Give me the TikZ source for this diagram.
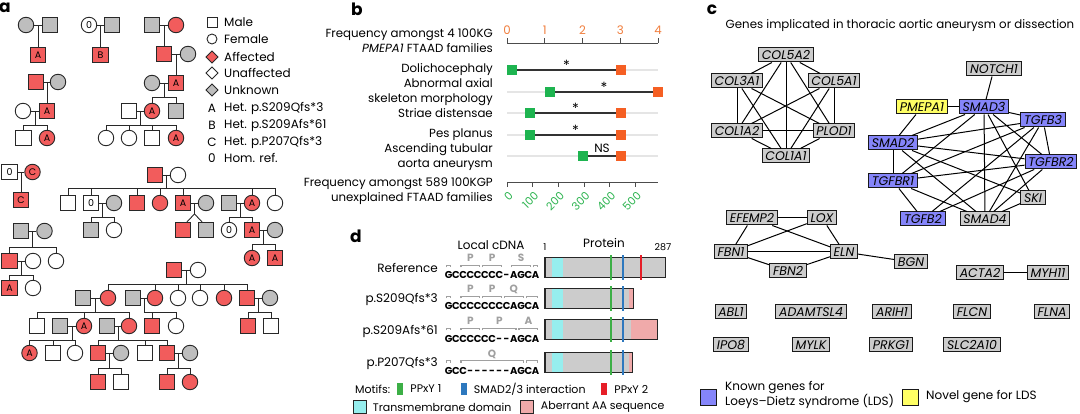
\documentclass[tikz,border=0pt]{standalone}
\usepackage{fontspec}
\setmainfont{Poppins}
\usetikzlibrary{positioning, shapes.geometric, calc}
\definecolor{affred}{RGB}{242,92,92}
\definecolor{unkgrey}{RGB}{190,190,190}
\definecolor{pedline}{RGB}{40,40,40}
\definecolor{frqorange}{RGB}{245,95,35}
\definecolor{frqgreen}{RGB}{30,180,80}
\definecolor{tickorange}{RGB}{240,125,60}
\definecolor{tickgreen}{RGB}{45,180,80}
\definecolor{genegrey}{RGB}{204,204,204}
\definecolor{ldsblue}{RGB}{133,133,250}
\definecolor{novyellow}{RGB}{255,255,100}
\definecolor{bargrey}{RGB}{204,204,204}
\definecolor{tmcyan}{RGB}{150,238,238}
\definecolor{aapink}{RGB}{240,170,170}
\definecolor{motgreen}{RGB}{60,175,70}
\definecolor{motblue}{RGB}{45,120,190}
\definecolor{motred}{RGB}{230,30,40}
\definecolor{codgrey}{RGB}{160,160,160}

\newcommand{\fsz}[1]{\fontsize{#1}{#1}\selectfont}
% mating line and its middle point
\newcommand{\couple}[3]{\draw[pline] (#1) -- (#2); \coordinate (#3) at ($(#1)!.5!(#2)$);}
% drop line, sibship line at height #2, children #3
\newcommand{\kids}[3]{%
  \foreach \kid in {#3}{\draw[pline] (\kid.north) -- (\kid.north |- 0,#2) -- (#1 |- 0,#2);}
  \draw[pline] (#1) -- (#1 |- 0,#2);}
% one cDNA line, letter by letter
\newcommand{\seqrow}[3]{%
  \foreach \ch [count=\i] in {#3}
    \node[seqch] (#1\i) at ({445+(\i-0.5)*7.25},#2) {\ch};}
% codon bracket: name, line y, first letter, last letter, amino acid
\newcommand{\codon}[5]{%
  \draw[codln] ({445+(#3-1)*7.25+1.5},{#2+2}) -- ++(0,-2) -- ({445+#4*7.25-1.5},#2) -- ++(0,2);
  \node[codtxt] (#1) at ({445+(#3+#4-1)*7.25/2},{#2-3.5}) {#5};}

\begin{document}
\begin{tikzpicture}[x=1pt, y=-1pt,
  pline/.style={draw=pedline, line width=0.9pt},
  ind/.style={draw=pedline, line width=0.9pt, minimum size=15.5pt, inner sep=0pt, font=\fsz{9.5}},
  male/.style={ind, rectangle},
  fem/.style={ind, circle},
  aff/.style={fill=affred},
  unk/.style={fill=unkgrey},
  lgsym/.style={draw=pedline, line width=0.9pt, minimum size=10pt, inner sep=0pt},
  lgtxt/.style={anchor=west, font=\fsz{12}, inner sep=0pt},
  dtxt/.style={anchor=west, font=\fsz{11}, inner sep=0pt},
  plabel/.style={font=\fsz{17}\bfseries, inner sep=0pt},
  blbl/.style={anchor=east, align=right, font=\fontsize{11.8}{15}\selectfont, inner sep=0pt},
  axln/.style={draw=black!70, line width=0.8pt},
  rowln/.style={draw=black!10, line width=1.6pt},
  pairln/.style={draw=black!80, line width=1.8pt},
  gsq/.style={fill=frqgreen, minimum size=10pt, inner sep=0pt},
  osq/.style={fill=frqorange, minimum size=10pt, inner sep=0pt},
  starlbl/.style={font=\fsz{14}, inner sep=0pt},
  seqch/.style={font=\fsz{10}\bfseries, inner sep=0pt, anchor=base},
  codln/.style={draw=codgrey, line width=1.1pt},
  codtxt/.style={font=\fsz{10.5}\bfseries, text=codgrey, inner sep=0pt, anchor=base},
  pbar/.style={fill=bargrey, anchor=west, minimum height=20pt, inner sep=0pt},
  pout/.style={draw=black!85, line width=1.1pt},
  motif/.style={line width=2.8pt},
  swatch/.style={inner sep=0pt},
  gene/.style={draw=black!90, line width=1pt, fill=genegrey, font=\fsz{12.5}\itshape, inner xsep=3.2pt, inner ysep=0pt, minimum height=14pt},
  ldsgene/.style={gene, fill=ldsblue},
  novgene/.style={gene, fill=novyellow},
  net/.style={draw=black, line width=1pt}]
\useasboundingbox (0,0) rectangle (1080,414);

% ---------------- a: pedigrees ----------------
\node[plabel] (la) at (5,8) {a};
% family 1
\node[fem,unk] (f1a) at (26,25) {};
\node[male,unk] (f1b) at (50,25) {};
\node[male,aff] (f1c) at (38,55) {A};
\couple{f1a}{f1b}{m1} \kids{m1}{40}{f1c}
% family 2
\node[fem] (f2a) at (89,25) {0};
\node[male,unk] (f2b) at (112,25) {};
\node[male,aff] (f2c) at (100.5,55) {B};
\couple{f2a}{f2b}{m2} \kids{m2}{40}{f2c}
% family 3
\node[male,unk] (f3a) at (152,25) {};
\node[fem,aff] (f3b) at (176,25) {};
\node[male,aff] (f3c) at (164,54) {};
\node[fem,unk] (f3d) at (188,54) {};
\node[fem,unk] (f3e) at (152,83) {};
\node[male,aff] (f3f) at (176,83) {A};
\node[male] (f3g) at (129,111) {};
\node[fem,aff] (f3h) at (152,111) {A};
\node[male,unk] (f3i) at (176,111) {};
\node[fem] (f3j) at (106,138) {};
\node[fem] (f3k) at (129,138) {};
\node[male] (f3l) at (152,138) {};
\node[fem,aff] (f3m) at (176,138) {A};
\couple{f3a}{f3b}{m3a} \kids{m3a}{40}{f3c}
\couple{f3c}{f3d}{m3b} \kids{m3b}{69}{f3f}
\couple{f3e}{f3f}{m3c} \kids{m3c}{97}{f3h,f3i}
\couple{f3g}{f3h}{m3d} \kids{m3d}{125}{f3j,f3k,f3l,f3m}
% family 4
\node[male,aff] (f4a) at (36,82) {};
\node[fem,unk] (f4b) at (58,82) {};
\node[fem] (f4c) at (23,111) {};
\node[male,aff] (f4d) at (47,111) {A};
\node[male] (f4e) at (23.5,138) {};
\node[fem,aff] (f4f) at (47,138) {A};
\couple{f4a}{f4b}{m4a} \kids{m4a}{97}{f4d}
\couple{f4c}{f4d}{m4b} \kids{m4b}{125}{f4e,f4f}
% family with C
\node[male] (fca) at (9.5,172) {0};
\node[fem,aff] (fcb) at (32.5,172) {C};
\node[male,aff] (fcc) at (21,200) {C};
\couple{fca}{fcb}{m5} \kids{m5}{186}{fcc}
% family 5
\node[male,unk] (f5a) at (21,231) {};
\node[fem,unk] (f5b) at (44.5,231) {};
\node[male,aff] (f5c) at (9.5,261) {};
\node[fem] (f5d) at (33,261) {};
\node[fem] (f5e) at (56,261) {};
\node[male,aff] (f5f) at (9.5,288) {A};
\node[fem] (f5g) at (33,288) {};
\couple{f5a}{f5b}{m6a} \kids{m6a}{247}{f5c,f5e}
\couple{f5c}{f5d}{m6b} \kids{m6b}{275}{f5f,f5g}
% family 6
\node[male,aff] (f6a) at (155,175) {};
\node[fem] (f6b) at (178,175) {};
\node[male] (f6c) at (68,203) {};
\node[male] (f6d) at (91,203) {0};
\node[fem,unk] (f6e) at (114,203) {};
\node[male,aff] (f6f) at (137,203) {};
\node[fem,aff] (f6g) at (160,203) {};
\node[male,aff] (f6h) at (183,203) {A};
\node[fem,unk] (f6i) at (206,203) {};
\node[male,unk] (f6j) at (229,203) {};
\node[fem,aff] (f6k) at (252,203) {A};
\node[fem] (f6l) at (275,203) {};
\node[male,unk] (f6m) at (91,230) {};
\node[fem] (f6n) at (114,230) {};
\node[male,aff] (f6o) at (183,230) {};
\node[male,unk] (f6p) at (206,230) {};
\node[fem] (f6q) at (229,230) {0};
\node[male,aff] (f6r) at (252,230) {A};
\node[fem,unk] (f6s) at (275,230) {};
\node[fem,aff] (f6t) at (252,258) {A};
\node[male,aff] (f6u) at (275,258) {A};
\couple{f6a}{f6b}{m7a} \kids{m7a}{188}{f6c,f6d,f6f,f6g,f6h,f6k,f6l}
\couple{f6d}{f6e}{m7b} \kids{m7b}{217}{f6m,f6n}
\couple{f6h}{f6i}{m7c}
\coordinate (tw) at (194.5,214);
\draw[pline] (m7c) -- (tw);
\draw[pline] (tw) -- ($(f6o.north)+(4,0)$);
\draw[pline] (tw) -- ($(f6p.north)+(-4,0)$);
\couple{f6j}{f6k}{m7d} \kids{m7d}{217}{f6q,f6r}
\couple{f6r}{f6s}{m7e} \kids{m7e}{244}{f6t,f6u}
% family 7
\node[male,aff] (f7a) at (174,270) {};
\node[fem] (f7b) at (198,270) {};
\node[male,unk] (g2a) at (83,298) {};
\node[fem,aff] (g2b) at (108,298) {};
\node[male,unk] (g2c) at (133,298) {};
\node[fem,aff] (g2d) at (155,298) {};
\node[fem] (g2e) at (178,298) {};
\node[fem] (g2f) at (200,298) {};
\node[fem,aff] (g2g) at (224,298) {};
\node[male,aff] (g2h) at (247,298) {};
\node[fem,unk] (g2i) at (270,298) {};
\node[male] (g3a) at (37,326) {};
\node[male,unk] (g3b) at (60,326) {};
\node[fem,aff] (g3c) at (84,326) {A};
\node[male,unk] (g3d) at (107,326) {};
\node[fem,aff] (g3e) at (129,326) {};
\node[male,aff] (g3f) at (152,326) {};
\node[fem] (g3g) at (176,326) {};
\node[male,aff] (g3h) at (248,326) {};
\node[male] (g3i) at (271,326) {};
\node[fem,aff] (g4a) at (29.5,353) {A};
\node[male] (g4b) at (53,353) {};
\node[fem] (g4c) at (75,353) {};
\node[male,aff] (g4d) at (98,353) {};
\node[fem,unk] (g4e) at (121,353) {};
\node[male] (g4f) at (145,353) {};
\node[male,aff] (g4g) at (167,353) {};
\node[fem,unk] (g4h) at (190,353) {};
\node[male,aff] (g5a) at (98,382) {};
\node[male] (g5b) at (121,382) {};
\node[male,aff] (g5c) at (167,382) {};
\node[fem,aff] (g5d) at (190,382) {};
\couple{f7a}{f7b}{m8a} \kids{m8a}{284}{g2b,g2d,g2e,g2f,g2g,g2h}
\couple{g2a}{g2b}{m8b} \kids{m8b}{312}{g3a,g3c,g3e}
\couple{g2c}{g2d}{m8c} \kids{m8c}{312}{g3f,g3g}
\couple{g2h}{g2i}{m8d} \kids{m8d}{312}{g3h,g3i}
\couple{g3b}{g3c}{m8e} \kids{m8e}{340}{g4a,g4b,g4c}
\couple{g3d}{g3e}{m8f} \kids{m8f}{340}{g4d,g4f,g4g}
\couple{g4d}{g4e}{m8g} \kids{m8g}{368}{g5a,g5b}
\couple{g4g}{g4h}{m8h} \kids{m8h}{368}{g5c,g5d}
% legend
\node[lgsym] (lmale) at (212,22) {};
\node[lgsym, circle] (lfem) at (212,39) {};
\node[lgsym, diamond, minimum size=12.5pt, fill=affred] (laff) at (212,57) {};
\node[lgsym, diamond, minimum size=12.5pt] (lun) at (212,73) {};
\node[lgsym, diamond, minimum size=12.5pt, fill=unkgrey] (lunk) at (212,90) {};
\node[lgtxt] (tmale) at (224,22) {Male};
\node[lgtxt] (tfem) at (224,39) {Female};
\node[lgtxt] (taff) at (224,57) {Affected};
\node[lgtxt] (tun) at (224,73) {Unaffected};
\node[lgtxt] (tunk) at (224,90) {Unknown};
\foreach \l/\t/\yy [count=\k] in {A/Het. p.S209Qfs*3/108, B/Het. p.S209Afs*61/125, C/Het. p.P207Qfs*3/142, 0/Hom. ref./158} {
  \node[font=\fsz{12}, inner sep=0pt] (lk\k) at (212,\yy) {\l};
  \node[lgtxt] (lt\k) at (224,\yy) {\t};
}

% ---------------- b: phenotype frequencies ----------------
\node[plabel] (lb) at (357,9) {b};
\draw[axln] (507,43) -- (658,43);
\foreach \n in {0,...,4} {
  \draw[axln] ({507+\n*37.75},43) -- ++(0,-5);
  \node[font=\fsz{11.8}, text=tickorange, inner sep=0pt] (ot\n) at ({507+\n*37.75},30) {\n};
}
\draw[axln] (507,182) -- (658,182);
\foreach \n in {0,100,...,500} {
  \draw[axln] ({507+\n*0.2564},182) -- ++(0,5);
  \node[font=\fsz{11}, text=tickgreen, rotate=45, anchor=east, inner sep=0pt] (gt\n) at ({511+\n*0.2564},194) {\n};
}
\node[blbl] (bhead) at (493,40.5) {Frequency amongst 4 100KG\\\textit{PMEPA1} FTAAD families};
\node[blbl] (bfoot) at (493,191.5) {Frequency amongst 589 100KGP\\unexplained FTAAD families};
\node[blbl] (ph1) at (493,70) {Dolichocephaly};
\node[blbl] (ph2) at (493,92.5) {Abnormal axial\\skeleton morphology};
\node[blbl] (ph3) at (493,113) {Striae distensae};
\node[blbl] (ph4) at (493,135) {Pes planus};
\node[blbl] (ph5) at (493,157.5) {Ascending tubular\\aorta aneurysm};
\foreach \r/\yy/\gx/\ox in {1/70/512/621, 2/92/550/658, 3/113/530/621, 4/135/530/621, 5/156/583/621} {
  \draw[rowln] (507,\yy) -- (658,\yy);
  \node[gsq] (g\r) at (\gx,\yy) {};
  \node[osq] (o\r) at (\ox,\yy) {};
  \draw[pairln] (g\r) -- (o\r);
}
\foreach \r in {1,...,4}
  \node[starlbl] (s\r) at ($(g\r)!.5!(o\r)+(0,-5)$) {*};
\node[font=\fsz{12}, inner sep=0pt] (s5) at ($(g5)!.5!(o5)+(0,-8)$) {NS};

% ---------------- d: cDNA and protein ----------------
\node[plabel] (ld) at (356,236) {d};
\node[font=\fsz{12}, inner sep=0pt] (tcdna) at (491,245) {Local cDNA};
\node[font=\fsz{12}, inner sep=0pt] (tprot) at (604,243) {Protein};
\node[font=\fsz{9.5}, inner sep=0pt] (tone) at (545,247) {1};
\node[font=\fsz{9.5}, inner sep=0pt] (tend) at (663,247) {287};
\node[blbl, font=\fsz{12}] (v1) at (438,268) {Reference};
\node[blbl, font=\fsz{12}] (v2) at (438,299) {p.S209Qfs*3};
\node[blbl, font=\fsz{12}] (v3) at (438,331) {p.S209Afs*61};
\node[blbl, font=\fsz{12}] (v4) at (438,363) {p.P207Qfs*3};
\seqrow{sa}{279}{G,C,C,C,C,C,C,C,-,A,G,C,A}
\seqrow{sb}{310}{G,C,C,C,C,C,C,C,C,A,G,C,A}
\seqrow{sc}{342}{G,C,C,C,C,C,C,-,-,A,G,C,A}
\seqrow{sd}{374}{G,C,C,-,-,-,-,-,-,A,G,C,A}
\codon{ca1}{265.5}{1}{1}{}
\codon{ca2}{265.5}{3}{5}{P}
\codon{ca3}{265.5}{6}{8}{P}
\codon{ca4}{265.5}{10}{12}{S}
\codon{ca5}{265.5}{13}{13}{}
\codon{cb1}{296.5}{1}{1}{}
\codon{cb2}{296.5}{3}{5}{P}
\codon{cb3}{296.5}{6}{8}{P}
\codon{cb4}{296.5}{9}{11}{Q}
\codon{cb5}{296.5}{12}{13}{}
\codon{cc1}{328.5}{1}{1}{}
\codon{cc2}{328.5}{3}{5}{P}
\codon{cc3}{328.5}{6}{10}{P}
\codon{cc4}{328.5}{11}{13}{A}
\codon{cd1}{360.5}{1}{1}{}
\codon{cd2}{360.5}{3}{11}{Q}
\codon{cd3}{360.5}{12}{13}{}
% protein bars
\foreach \r/\yy/\len/\pk in {1/267.5/120/120, 2/298.5/88/84, 3/329.5/112/86, 4/362.5/87/84} {
  \node[pbar, minimum width=\len] (pb\r) at (545,\yy) {};
  \fill[tmcyan] ($(pb\r.south west)+(7,0)$) rectangle ($(pb\r.north west)+(18,0)$);
  \fill[aapink] ($(pb\r.south west)+(\pk,0)$) rectangle (pb\r.north east);
  \draw[pout] (pb\r.south west) rectangle (pb\r.north east);
  \draw[motif, motgreen] ($(pb\r.north west)+(66,-2)$) -- ($(pb\r.south west)+(66,2)$);
  \draw[motif, motblue] ($(pb\r.north west)+(78,-2)$) -- ($(pb\r.south west)+(78,2)$);
}
\draw[motif, motred] ($(pb1.north west)+(96,-2)$) -- ($(pb1.south west)+(96,2)$);
% legend
\node[dtxt] (tmot) at (355,389) {Motifs:};
\node[swatch, fill=motgreen, minimum width=6pt, minimum height=12pt] (kg) at (400,389) {};
\node[dtxt, right=7pt of kg] (tkg) {PPxY 1};
\node[swatch, fill=motblue, minimum width=6pt, minimum height=12pt] (kbl) at (463.5,389) {};
\node[dtxt, right=7pt of kbl] (tkbl) {SMAD2/3 interaction};
\node[swatch, fill=motred, minimum width=6pt, minimum height=12pt] (kr) at (604,389) {};
\node[dtxt, right=7pt of kr] (tkr) {PPxY 2};
\node[swatch, draw=black!85, line width=0.9pt, fill=tmcyan, minimum size=12.5pt] (kc) at (360,407) {};
\node[dtxt, right=6pt of kc] (tkc) {Transmembrane domain};
\node[swatch, draw=black!85, line width=0.9pt, fill=aapink, minimum size=12.5pt] (kp) at (527,407) {};
\node[dtxt, right=7pt of kp] (tkp) {Aberrant AA sequence};

% ---------------- c: gene networks ----------------
\node[plabel] (lc) at (712,10) {c};
\node[font=\fsz{11.8}, inner sep=0pt] (ctitle) at (900,26) {Genes implicated in thoracic aortic aneurysm or dissection};
\node[gene] (col5a2) at (786,55) {COL5A2};
\node[gene] (col3a1) at (737,81) {COL3A1};
\node[gene] (col5a1) at (834,81) {COL5A1};
\node[gene] (col1a2) at (737,131) {COL1A2};
\node[gene] (plod1) at (834,131) {PLOD1};
\node[gene] (col1a1) at (786,156) {COL1A1};
\foreach \a/\b in {col5a2/col3a1, col5a2/col5a1, col5a2/col1a2, col5a2/plod1, col5a2/col1a1,
    col3a1/col1a2, col3a1/plod1, col3a1/col1a1, col5a1/col1a2, col5a1/plod1, col5a1/col1a1,
    col1a2/plod1, col1a2/col1a1, plod1/col1a1}
  \draw[net] (\a) -- (\b);
\node[gene] (notch1) at (994,69) {NOTCH1};
\node[novgene] (pmepa1) at (922,107) {PMEPA1};
\node[ldsgene] (smad3) at (984,107) {SMAD3};
\node[ldsgene] (tgfb3) at (1043,120) {TGFB3};
\node[ldsgene] (smad2) at (893,143) {SMAD2};
\node[ldsgene] (tgfbr2) at (1051,162) {TGFBR2};
\node[ldsgene] (tgfbr1) at (893,181) {TGFBR1};
\node[gene] (ski) at (1033,198) {SKI};
\node[ldsgene] (tgfb2) at (923,219) {TGFB2};
\node[gene] (smad4) at (985,219) {SMAD4};
\foreach \a/\b in {notch1/smad3, pmepa1/smad3, pmepa1/smad2, smad3/smad2, smad3/tgfb3, smad3/tgfbr1,
    smad3/tgfbr2, smad3/ski, smad3/smad4, tgfb3/smad2, tgfb3/tgfbr1, tgfb3/tgfbr2, tgfb3/tgfb2,
    tgfb3/smad4, smad2/tgfbr1, smad2/tgfbr2, smad2/ski, smad2/smad4, tgfbr2/tgfbr1, tgfbr2/tgfb2,
    tgfbr2/smad4, tgfbr1/tgfb2, tgfbr1/smad4, ski/smad4}
  \draw[net] (\a) -- (\b);
\node[gene] (efemp2) at (752,218) {EFEMP2};
\node[gene] (lox) at (822,218) {LOX};
\node[gene] (fbn1) at (731,252) {FBN1};
\node[gene] (eln) at (844,252) {ELN};
\node[gene] (fbn2) at (788,271) {FBN2};
\node[gene] (bgn) at (911,262) {BGN};
\node[gene] (acta2) at (980,273) {ACTA2};
\node[gene] (myh11) at (1048,273) {MYH11};
\foreach \a/\b in {efemp2/lox, efemp2/fbn1, efemp2/eln, lox/fbn1, lox/eln, fbn1/eln, fbn1/fbn2,
    fbn2/eln, eln/bgn, acta2/myh11}
  \draw[net] (\a) -- (\b);
\node[gene] (abl1) at (731,312) {ABL1};
\node[gene] (adamtsl4) at (811,312) {ADAMTSL4};
\node[gene] (arih1) at (892,312) {ARIH1};
\node[gene] (flcn) at (972,312) {FLCN};
\node[gene] (flna) at (1052,312) {FLNA};
\node[gene] (ipo8) at (731,345) {IPO8};
\node[gene] (mylk) at (811,345) {MYLK};
\node[gene] (prkg1) at (891,345) {PRKG1};
\node[gene] (slc2a10) at (972,345) {SLC2A10};
% legend
\node[swatch, draw=black!90, line width=1pt, fill=ldsblue, minimum size=16pt] (kblue) at (708.5,397) {};
\node[lgtxt, align=left, font=\fontsize{12}{14}\selectfont] (tblue) at (725,395) {Known genes for\\Loeys--Dietz syndrome (LDS)};
\node[swatch, draw=black!90, line width=1pt, fill=novyellow, minimum size=16pt] (kyel) at (910,397) {};
\node[lgtxt] (tyel) at (926,397) {Novel gene for LDS};
\end{tikzpicture}
\end{document}
